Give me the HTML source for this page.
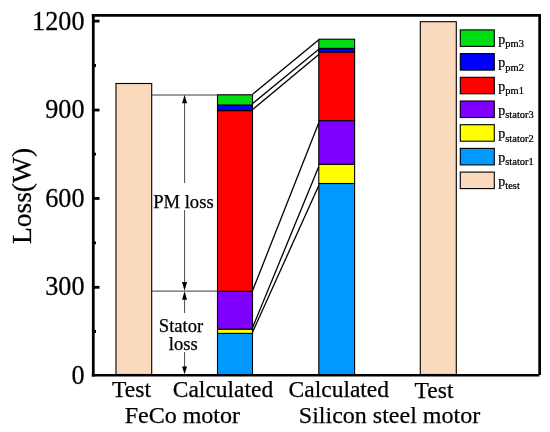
<!DOCTYPE html>
<html>
<head>
<meta charset="utf-8">
<title>Loss comparison</title>
<style>
html,body{margin:0;padding:0;background:#fff;}
body{width:550px;height:432px;overflow:hidden;}
svg{display:block;}
text{font-family:"Liberation Serif","Times New Roman",serif;fill:#000;stroke:#000;stroke-width:0.25px;}
</style>
</head>
<body>
<svg width="550" height="432" viewBox="0 0 550 432">
<rect x="0" y="0" width="550" height="432" fill="#fff"/>

<g stroke="#000" stroke-width="1.1">
<rect x="116" y="83.5" width="35.7" height="291.0" fill="#FBD9BC"/>
<rect x="420.3" y="21.7" width="36" height="352.8" fill="#FBD9BC"/>
<rect x="217.5" y="333.4" width="35" height="41.1" fill="#0099FF"/>
<rect x="217.5" y="329.1" width="35" height="4.3" fill="#FFFF00"/>
<rect x="217.5" y="291.3" width="35" height="37.8" fill="#8000FF"/>
<rect x="217.5" y="110.6" width="35" height="180.7" fill="#FF0000"/>
<rect x="217.5" y="105" width="35" height="5.6" fill="#0000FF"/>
<rect x="217.5" y="94.8" width="35" height="10.2" fill="#00DD11"/>
<rect x="318.8" y="183.5" width="35.8" height="191.0" fill="#0099FF"/>
<rect x="318.8" y="164.3" width="35.8" height="19.2" fill="#FFFF00"/>
<rect x="318.8" y="120.6" width="35.8" height="43.7" fill="#8000FF"/>
<rect x="318.8" y="52" width="35.8" height="68.6" fill="#FF0000"/>
<rect x="318.8" y="48.4" width="35.8" height="3.6" fill="#0000FF"/>
<rect x="318.8" y="39.2" width="35.8" height="9.2" fill="#00DD11"/>
</g>
<g stroke="#000" stroke-width="1.3" fill="none">
<line x1="252.6" y1="94.3" x2="318.8" y2="39.8"/>
<line x1="252.6" y1="103.6" x2="318.8" y2="49.3"/>
<line x1="252.6" y1="109.6" x2="318.8" y2="54.4"/>
<line x1="252.6" y1="290.6" x2="318.8" y2="122.8"/>
<line x1="252.6" y1="327.5" x2="318.8" y2="166.6"/>
<line x1="252.6" y1="332.1" x2="318.8" y2="185.5"/>
</g>
<g stroke="#5a5a5a" stroke-width="1.1" fill="none">
  <line x1="152" y1="95" x2="217.5" y2="95" stroke="#3a3a3a" stroke-width="1"/>
  <line x1="152" y1="291.1" x2="217.5" y2="291.1" stroke="#3a3a3a" stroke-width="1"/>
  <line x1="184.55" y1="100" x2="184.55" y2="183"/>
  <line x1="184.55" y1="210" x2="184.55" y2="285"/>
  <line x1="184.55" y1="297" x2="184.55" y2="313"/>
  <line x1="184.55" y1="352" x2="184.55" y2="368"/>
</g>
<g fill="#000" stroke="none">
  <polygon points="184.55,94.8 182.05,103.3 187.05,103.3"/>
  <polygon points="184.55,291 182.05,282.1 187.05,282.1"/>
  <polygon points="184.55,291.2 182.05,299.8 187.05,299.8"/>
  <polygon points="184.55,374.2 182.05,366.4 187.05,366.4"/>
</g>

<g stroke="#000" fill="none">
  <line x1="91.8" y1="15.4" x2="541" y2="15.4" stroke-width="2.9"/>
  <line x1="93.3" y1="13.95" x2="93.3" y2="376.5" stroke-width="2.75"/>
  <line x1="539.65" y1="13.95" x2="539.65" y2="375" stroke-width="2.7"/>
  <line x1="91.8" y1="375.25" x2="539.4" y2="375.25" stroke-width="2.6"/>
</g>
<g stroke="#000" stroke-width="2.8">
  <line x1="94" y1="21.1" x2="99.5" y2="21.1"/>
  <line x1="94" y1="110.05" x2="99.5" y2="110.05"/>
  <line x1="94" y1="198.45" x2="99.5" y2="198.45"/>
  <line x1="94" y1="287.3" x2="99.5" y2="287.3"/>
  <line x1="94" y1="65.5" x2="96" y2="65.5"/>
  <line x1="94" y1="154.2" x2="96" y2="154.2"/>
  <line x1="94" y1="242.9" x2="96" y2="242.9"/>
  <line x1="94" y1="331.5" x2="96" y2="331.5"/>
</g>

<text transform="translate(84.5,29.7) scale(1,1.035)" font-size="26.2" text-anchor="end">1200</text>
<text transform="translate(84.5,118.4) scale(1,1.035)" font-size="26.2" text-anchor="end">900</text>
<text transform="translate(84.5,206.9) scale(1,1.035)" font-size="26.2" text-anchor="end">600</text>
<text transform="translate(84.5,295.4) scale(1,1.035)" font-size="26.2" text-anchor="end">300</text>
<text transform="translate(84.5,383.8) scale(1,1.035)" font-size="26.2" text-anchor="end">0</text>
<text transform="translate(31,196) rotate(-90)" font-size="27.5" text-anchor="middle">Loss(W)</text>
<text transform="translate(131.5,396.7) scale(1,1.0)" font-size="23.5" text-anchor="middle">Test</text>
<text transform="translate(223,396.7) scale(1,1.0)" font-size="23.5" text-anchor="middle">Calculated</text>
<text transform="translate(338.8,396.7) scale(1,1.0)" font-size="23.5" text-anchor="middle">Calculated</text>
<text transform="translate(434,398.0) scale(1,1.0)" font-size="23.5" text-anchor="middle">Test</text>
<text transform="translate(182.3,423) scale(1,1.0)" font-size="24" text-anchor="middle">FeCo motor</text>
<text transform="translate(389.5,423) scale(1,1.0)" font-size="24" text-anchor="middle">Silicon steel motor</text>
<text transform="translate(183.4,208) scale(1,1.0)" font-size="18.6" text-anchor="middle">PM loss</text>
<text transform="translate(181,331.5) scale(1,1.0)" font-size="18.6" text-anchor="middle">Stator</text>
<text transform="translate(183.2,349.5) scale(1,1.0)" font-size="18.6" text-anchor="middle">loss</text>
<g stroke="#000" stroke-width="1.1">
<rect x="460.3" y="29.9" width="34" height="16.5" fill="#00DD11"/>
<rect x="460.3" y="53.6" width="34" height="16.5" fill="#0000FF"/>
<rect x="460.3" y="77.3" width="34" height="16.5" fill="#FF0000"/>
<rect x="460.3" y="101.0" width="34" height="16.5" fill="#8000FF"/>
<rect x="460.3" y="124.7" width="34" height="16.5" fill="#FFFF00"/>
<rect x="460.3" y="148.4" width="34" height="16.5" fill="#0099FF"/>
<rect x="460.3" y="172.1" width="34" height="16.5" fill="#FBD9BC"/>
</g>
<text transform="translate(498.3,43.5) scale(1,0.97)" font-size="14">p<tspan font-size="10.5" dy="3.4">pm3</tspan></text>
<text transform="translate(498.3,67.2) scale(1,0.97)" font-size="14">p<tspan font-size="10.5" dy="3.4">pm2</tspan></text>
<text transform="translate(498.3,90.9) scale(1,0.97)" font-size="14">p<tspan font-size="10.5" dy="3.4">pm1</tspan></text>
<text transform="translate(498.3,114.6) scale(1,0.97)" font-size="14">p<tspan font-size="10.5" dy="3.4">stator3</tspan></text>
<text transform="translate(498.3,138.3) scale(1,0.97)" font-size="14">p<tspan font-size="10.5" dy="3.4">stator2</tspan></text>
<text transform="translate(498.3,162.0) scale(1,0.97)" font-size="14">p<tspan font-size="10.5" dy="3.4">stator1</tspan></text>
<text transform="translate(498.3,185.7) scale(1,0.97)" font-size="14">p<tspan font-size="10.5" dy="3.4">test</tspan></text>
</svg>
</body>
</html>
